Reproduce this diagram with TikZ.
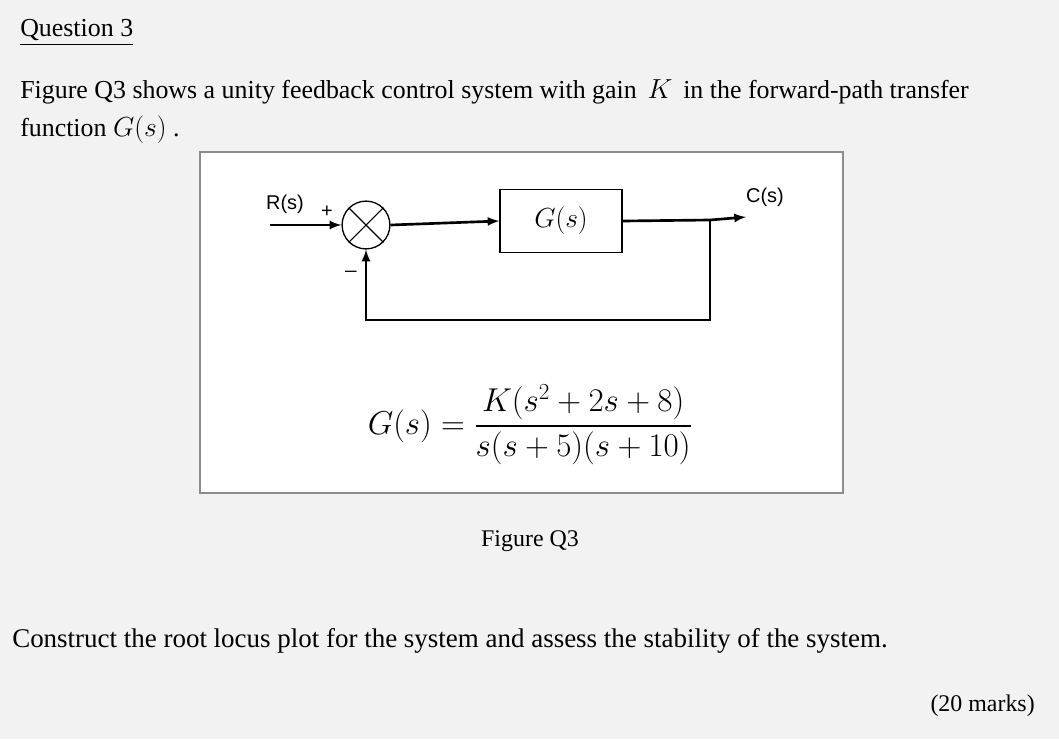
\documentclass[tikz,border=0pt]{standalone}
\usepackage{fontspec}
\setmainfont{Liberation Serif}
\newfontfamily\sansf{Liberation Sans}
\usepackage{amsmath}
\begin{document}
\begin{tikzpicture}[x=0.02646cm,y=-0.02646cm,
  txt/.style={anchor=west,inner sep=0,font=\fontsize{19.5}{22}\selectfont},
  sl/.style={font=\sansf\fontsize{15}{18}\selectfont,inner sep=0},
  wire/.style={line width=2pt,black},
  arr/.style={wire,-latex}]
\fill[black!5] (0,0) rectangle (1059,739);
\useasboundingbox (0,0) rectangle (1059,739);
\node[txt] (q) at (20,33) {\underline{Question 3}};
\node[txt] (l1) at (20,92) {Figure Q3 shows a unity feedback control system with gain \,$K$\, in the forward-path transfer};
\node[txt] (l2) at (20,130) {function $G(s)$ .};
\draw[black!45,line width=1.2pt,fill=white] (200,152) rectangle (843,493);
\node[sl] (r) at (285,204) {R(s)};
\node[sl] (c) at (765,197) {C(s)};
\node[sl] (plus) at (327,212) {+};
\node[sl] (minus) at (351,270) {\_};
\node[circle,draw,line width=1pt,minimum size=48pt*0.75,inner sep=0] (sum) at (366,225) {};
\draw[line width=0.8pt] (sum.45)--(sum.225) (sum.135)--(sum.-45);
\coordinate (rin) at (270,225);
\draw[arr] (rin) -- (sum.west);
\node[draw,line width=1pt,minimum width=122*0.02646cm,minimum height=63*0.02646cm,font=\fontsize{22}{26}\selectfont] (g) at (561,221) {$G(s)$};
\draw[arr] (sum.east) -- (g.west);
\coordinate (br) at (710,220);
\coordinate (out) at (746,217);
\draw[arr] (g.east) -- (br) -- (out);
\coordinate (fb1) at (710,320);
\coordinate (fb2) at (366,320);
\draw[arr] (br) -- (fb1) -- (fb2) -- (sum.south);
\node[font=\fontsize{23}{27}\selectfont] (eq) at (530,425) {$G(s)=\dfrac{K(s^2+2s+8)}{s(s+5)(s+10)}$};
\node[txt,anchor=center,font=\fontsize{18}{22}\selectfont] (fig) at (530,541) {Figure Q3};
\node[txt,font=\fontsize{20.3}{24}\selectfont] (l3) at (12,641) {Construct the root locus plot for the system and assess the stability of the system.};
\node[txt,anchor=east,font=\fontsize{18}{22}\selectfont] (m) at (1035,706) {(20 marks)};
\end{tikzpicture}
\end{document}
